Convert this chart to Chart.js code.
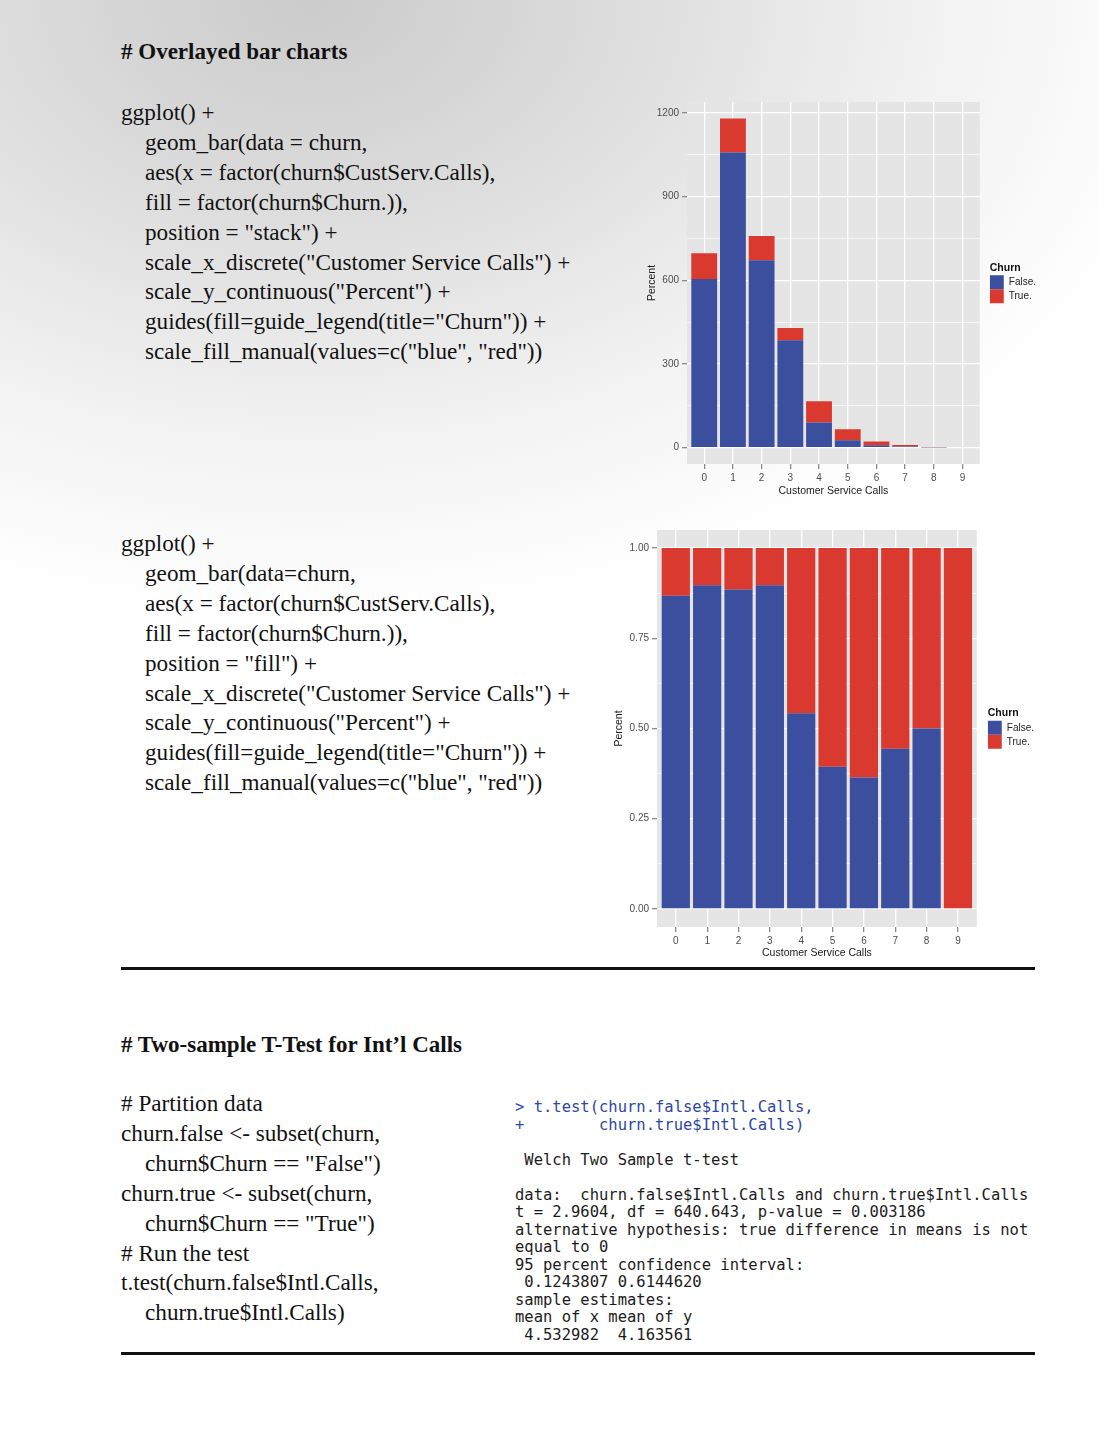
<!DOCTYPE html>
<html>
<head>
<meta charset="utf-8">
<script src="https://cdn.jsdelivr.net/npm/chart.js@4.4.0/dist/chart.umd.min.js"></script>
<style>
  body {
    margin: 0; width: 1099px; height: 1430px; position: relative; overflow: hidden;
    background: radial-gradient(ellipse 900px 620px at 310px 0px, #cbcbcb 0%, #dddddd 35%, #f2f2f2 70%, #ffffff 100%);
    font-family: "Liberation Serif", "Times New Roman", serif; color: #111;
  }
  .h { position: absolute; left: 121px; font-weight: bold; font-size: 23px; line-height: 30px; white-space: pre; }
  .code { position: absolute; left: 121px; font-size: 23.2px; line-height: 29.9px; white-space: pre; }
  .code .in { padding-left: 24px; }
  canvas { position: absolute; }
  .rule { position: absolute; left: 121px; width: 914px; height: 3px; background: #111; }
  .con { position: absolute; left: 515px; font-family: "DejaVu Sans Mono", monospace; font-size: 15.5px;
         line-height: 17.5px; white-space: pre; color: #1c1c1c; }
  .con .cmd { color: #2d48a6; }
</style>
</head>
<body>
<div class="h" style="top:37px"># Overlayed bar charts</div>
<div class="code" style="top:98px">ggplot() +
<span class="in">geom_bar(data = churn,</span>
<span class="in">aes(x = factor(churn$CustServ.Calls),</span>
<span class="in">fill = factor(churn$Churn.)),</span>
<span class="in">position = "stack") +</span>
<span class="in">scale_x_discrete("Customer Service Calls") +</span>
<span class="in">scale_y_continuous("Percent") +</span>
<span class="in">guides(fill=guide_legend(title="Churn")) +</span>
<span class="in">scale_fill_manual(values=c("blue", "red"))</span></div>

<div class="code" style="top:529px">ggplot() +
<span class="in">geom_bar(data=churn,</span>
<span class="in">aes(x = factor(churn$CustServ.Calls),</span>
<span class="in">fill = factor(churn$Churn.)),</span>
<span class="in">position = "fill") +</span>
<span class="in">scale_x_discrete("Customer Service Calls") +</span>
<span class="in">scale_y_continuous("Percent") +</span>
<span class="in">guides(fill=guide_legend(title="Churn")) +</span>
<span class="in">scale_fill_manual(values=c("blue", "red"))</span></div>

<canvas id="stackChart" width="410" height="399" style="left:640px; top:102px"></canvas>
<canvas id="fillChart" width="442" height="433" style="left:606px; top:530px"></canvas>

<div class="rule" style="top:967px"></div>

<div class="h" style="top:1030px"># Two-sample T-Test for Int’l Calls</div>
<div class="code" style="top:1089px"># Partition data
churn.false &lt;- subset(churn,
<span class="in">churn$Churn == "False")</span>
churn.true &lt;- subset(churn,
<span class="in">churn$Churn == "True")</span>
# Run the test
t.test(churn.false$Intl.Calls,
<span class="in">churn.true$Intl.Calls)</span></div>

<div class="con" style="top:1099px"><span class="cmd">&gt; t.test(churn.false$Intl.Calls,
+        churn.true$Intl.Calls)</span>

 Welch Two Sample t-test

data:  churn.false$Intl.Calls and churn.true$Intl.Calls
t = 2.9604, df = 640.643, p-value = 0.003186
alternative hypothesis: true difference in means is not
equal to 0
95 percent confidence interval:
 0.1243807 0.6144620
sample estimates:
mean of x mean of y
 4.532982  4.163561</div>

<div class="rule" style="top:1352px"></div>

<script>
// categorias y valores
const calls = ['0', '1', '2', '3', '4', '5', '6', '7', '8', '9'];
const stackFalse = [605, 1059, 672, 385, 90, 26, 8, 4, 1, 0];
const stackTrue = [92, 122, 87, 44, 76, 40, 14, 5, 1, 2];
const fillFalse = [0.868, 0.897, 0.885, 0.897, 0.542, 0.394, 0.364, 0.444, 0.5, 0];
const fillTrue = [0.132, 0.103, 0.115, 0.103, 0.458, 0.606, 0.636, 0.556, 0.5, 1];
const stackTicks = [0, 300, 600, 900, 1200];
const fillTicks = [0, 0.25, 0.5, 0.75, 1];

const BLUE = '#3c4e9e';
const RED = '#d9392f';
const PANEL = '#e5e5e5';

Chart.defaults.font.family = '"Liberation Sans", Arial, sans-serif';

// fondo gris del panel (estilo ggplot)
const panelBg = {
    id: 'panelBg',
    beforeDraw(chart) {
        const a = chart.chartArea;
        const ctx = chart.ctx;
        ctx.save();
        ctx.fillStyle = PANEL;
        ctx.fillRect(a.left, a.top, a.right - a.left, a.bottom - a.top);
        ctx.restore();
    }
};

function crearGrafica(id, falseVals, trueVals, cfg) {
    const majors = cfg.ticks;
    // lineas menores a mitad de camino entre las principales
    const allTicks = [];
    majors.forEach((v, i) => {
        allTicks.push(v);
        if (i < majors.length - 1) allTicks.push((v + majors[i + 1]) / 2);
    });
    const isMajor = v => majors.includes(v);

    const ctx = document.getElementById(id).getContext('2d');
    new Chart(ctx, {
        type: 'bar',
        data: {
            datasets: [{
                label: 'False.',
                data: calls.map((c, i) => ({ x: i, y: falseVals[i] })),
                backgroundColor: BLUE,
                borderWidth: 0,
                barPercentage: 0.9,
                categoryPercentage: 1
            }, {
                label: 'True.',
                data: calls.map((c, i) => ({ x: i, y: trueVals[i] })),
                backgroundColor: RED,
                borderWidth: 0,
                barPercentage: 0.9,
                categoryPercentage: 1
            }]
        },
        options: {
            responsive: false,
            animation: false,
            devicePixelRatio: 1,
            layout: { padding: { right: cfg.padRight } },
            scales: {
                x: {
                    type: 'linear',
                    min: -0.6,
                    max: 9.6,
                    stacked: true,
                    offset: false,
                    afterBuildTicks: s => { s.ticks = calls.map((c, i) => ({ value: i })); },
                    afterFit: s => { s.height = cfg.xH; s.paddingLeft = 0; s.paddingRight = 0; },
                    ticks: {
                        callback: v => calls[v],
                        color: '#4d4d4d',
                        font: { size: 10 },
                        padding: 3,
                        autoSkip: false,
                        maxRotation: 0
                    },
                    grid: { offset: false, color: '#ffffff', lineWidth: 1.3, tickColor: '#8a8a8a', tickLength: 5 },
                    border: { display: false },
                    title: {
                        display: true,
                        text: 'Customer Service Calls',
                        color: '#1a1a1a',
                        font: { size: 10.5 },
                        padding: { top: 4, bottom: 4 }
                    }
                },
                y: {
                    min: cfg.min,
                    max: cfg.max,
                    stacked: true,
                    afterBuildTicks: s => { s.ticks = allTicks.map(v => ({ value: v })); },
                    afterFit: s => { s.width = cfg.yW; s.paddingTop = 0; s.paddingBottom = 0; },
                    ticks: {
                        callback: v => isMajor(v) ? cfg.fmt(v) : '',
                        color: '#4d4d4d',
                        font: { size: 10 },
                        padding: 3,
                        autoSkip: false
                    },
                    grid: {
                        color: '#ffffff',
                        lineWidth: c => (c.tick && isMajor(c.tick.value)) ? 1.3 : 0.6,
                        tickColor: c => (c.tick && isMajor(c.tick.value)) ? '#8a8a8a' : 'rgba(0,0,0,0)',
                        tickLength: 5
                    },
                    border: { display: false },
                    title: {
                        display: true,
                        text: 'Percent',
                        color: '#1a1a1a',
                        font: { size: 10.5 },
                        padding: { top: cfg.titlePad, bottom: 0 }
                    }
                },
                // separador entre el panel y la leyenda
                gap: {
                    type: 'linear',
                    axis: 'y',
                    position: 'right',
                    display: true,
                    grid: { display: false, drawTicks: false },
                    ticks: { display: false },
                    border: { display: false },
                    afterFit: s => { s.width = cfg.gap; s.paddingTop = 0; s.paddingBottom = 0; }
                }
            },
            plugins: {
                legend: {
                    position: 'right',
                    align: 'center',
                    fullSize: false,
                    title: {
                        display: true,
                        text: 'Churn',
                        position: 'start',
                        color: '#111',
                        font: { size: 10.5, weight: 'bold' },
                        padding: 0
                    },
                    labels: {
                        boxWidth: 14,
                        boxHeight: 14,
                        padding: 0,
                        color: '#222',
                        font: { size: 10 }
                    }
                },
                tooltip: { enabled: false }
            }
        },
        plugins: [panelBg]
    });
}

crearGrafica('stackChart', stackFalse, stackTrue, {
    ticks: stackTicks, min: -59, max: 1240, fmt: v => String(v),
    yW: 47, xH: 37, titlePad: 5.7, gap: 10, padRight: 4
});
crearGrafica('fillChart', fillFalse, fillTrue, {
    ticks: fillTicks, min: -0.05, max: 1.05, fmt: v => v.toFixed(2),
    yW: 51, xH: 36, titlePad: 6.7, gap: 11, padRight: 4
});
</script>
</body>
</html>
